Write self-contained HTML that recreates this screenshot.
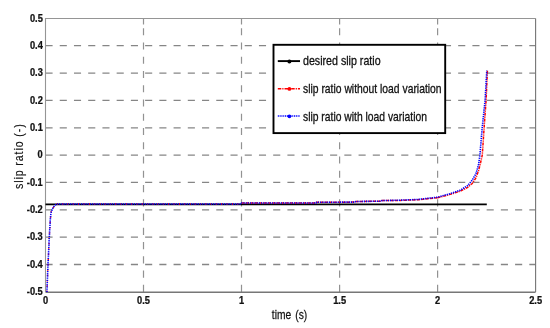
<!DOCTYPE html>
<html><head><meta charset="utf-8"><title>slip ratio</title>
<style>
html,body{margin:0;padding:0;background:#fff;}
svg{display:block;font-family:"Liberation Sans",sans-serif;}
.tick text{font-size:10px;font-weight:bold;fill:#111;stroke:#111;stroke-width:0.25;}
.grid line{stroke-dasharray:7.1 7.13;}
.grid .h{stroke:#868686;stroke-width:1.3;}
.grid .v{stroke:#929292;stroke-width:1.2;}
.lbl{font-size:12.6px;fill:#111;stroke:#111;stroke-width:0.3;}
.ax{font-size:12.3px;fill:#111;stroke:#111;stroke-width:0.25;}
</style></head><body>
<svg width="550" height="328" viewBox="0 0 550 328">
<rect x="0" y="0" width="550" height="328" fill="#fff"/>
<g class="grid">
<line class="v" x1="143.5" y1="291.95" x2="143.5" y2="26.5" style="stroke-dasharray:7.1 7.16"/>
<line class="v" x1="143.5" y1="18.5" x2="143.5" y2="24.5" style="stroke-dasharray:none"/>
<line class="v" x1="241.5" y1="291.95" x2="241.5" y2="26.5" style="stroke-dasharray:7.1 7.16"/>
<line class="v" x1="241.5" y1="18.5" x2="241.5" y2="24.5" style="stroke-dasharray:none"/>
<line class="v" x1="339.6" y1="291.95" x2="339.6" y2="26.5" style="stroke-dasharray:7.1 7.16"/>
<line class="v" x1="339.6" y1="18.5" x2="339.6" y2="24.5" style="stroke-dasharray:none"/>
<line class="v" x1="437.6" y1="291.95" x2="437.6" y2="26.5" style="stroke-dasharray:7.1 7.16"/>
<line class="v" x1="437.6" y1="18.5" x2="437.6" y2="24.5" style="stroke-dasharray:none"/>
<line class="h" x1="45.5" y1="45.7" x2="535.6" y2="45.7"/>
<line class="h" x1="45.5" y1="73.1" x2="535.6" y2="73.1"/>
<line class="h" x1="45.5" y1="100.4" x2="535.6" y2="100.4"/>
<line class="h" x1="45.5" y1="127.8" x2="535.6" y2="127.8"/>
<line class="h" x1="45.5" y1="155.1" x2="535.6" y2="155.1"/>
<line class="h" x1="45.5" y1="182.4" x2="535.6" y2="182.4"/>
<line class="h" x1="45.5" y1="209.8" x2="535.6" y2="209.8"/>
<line class="h" x1="45.5" y1="237.1" x2="535.6" y2="237.1"/>
<line class="h" x1="45.5" y1="264.5" x2="535.6" y2="264.5"/>
</g>
<path d="M45.5 291.9V18.5H535.6" fill="none" stroke="#959595" stroke-width="1.1"/>
<line x1="535.6" y1="18.5" x2="535.6" y2="291.9" stroke="#747474" stroke-width="1.1"/>
<line x1="45.5" y1="292.2" x2="535.6" y2="292.2" stroke="#777" stroke-width="1.6"/>
<line x1="45.5" y1="204.35" x2="486.8" y2="204.35" stroke="#000" stroke-width="1.9"/>
<polyline points="46.9,292.0 48.0,264.5 48.7,250.0 49.3,237.0 50.3,220.0 50.8,214.3 51.3,211.7 52.2,209.3 53.7,206.8 55.2,205.0 56.8,204.0 241.0,204.0 241.6,203.0" fill="none" stroke="#ff0000" stroke-width="1.4" stroke-dasharray="1.4 3.9"/>
<polyline points="241.6,203.0 316.0,203.0 316.5,202.3 355.0,202.1 356.0,201.5 381.0,201.2 382.0,200.6 400.0,200.4 418.3,199.7 437.5,197.7" fill="none" stroke="#ff0000" stroke-width="1.5" stroke-dasharray="3.2 1.2"/>
<polyline points="437.5,197.7 449.4,194.6 460.3,191.2 467.6,187.4 472.2,183.5 475.9,178.0 478.6,170.5 480.5,163.0 482.3,155.0 484.1,127.8 486.1,100.0 487.4,70.6" fill="none" stroke="#ff0000" stroke-width="1.5" stroke-dasharray="3 0.9 1.2 0.9"/>
<polyline points="46.9,292.0 48.0,264.5 48.7,250.0 49.3,237.0 50.3,220.0 50.8,214.3 51.3,211.7 52.2,209.3 53.7,206.8 55.2,205.0 56.8,204.0 241.0,204.0 241.6,203.0 316.0,203.0 316.5,202.3 355.0,202.1 356.0,201.5 381.0,201.2 382.0,200.6 400.0,200.2 418.3,199.4 437.5,197.2 449.4,193.9 460.3,190.2 467.6,185.6 472.2,180.2 475.9,173.8 478.6,164.6 479.9,155.0 482.2,127.8 485.1,100.0 486.8,70.6" fill="none" stroke="#0000ff" stroke-width="1.6" stroke-dasharray="1.3 0.9"/>
<g class="tick">
<text transform="translate(42.8,21.6) scale(0.93,1)" text-anchor="end">0.5</text>
<text transform="translate(42.8,48.9) scale(0.93,1)" text-anchor="end">0.4</text>
<text transform="translate(42.8,76.3) scale(0.93,1)" text-anchor="end">0.3</text>
<text transform="translate(42.8,103.6) scale(0.93,1)" text-anchor="end">0.2</text>
<text transform="translate(42.8,131.0) scale(0.93,1)" text-anchor="end">0.1</text>
<text transform="translate(42.8,158.3) scale(0.93,1)" text-anchor="end">0</text>
<text transform="translate(42.8,185.6) scale(0.93,1)" text-anchor="end">-0.1</text>
<text transform="translate(42.8,213.0) scale(0.93,1)" text-anchor="end">-0.2</text>
<text transform="translate(42.8,240.3) scale(0.93,1)" text-anchor="end">-0.3</text>
<text transform="translate(42.8,267.7) scale(0.93,1)" text-anchor="end">-0.4</text>
<text transform="translate(42.8,295.0) scale(0.93,1)" text-anchor="end">-0.5</text>
<text transform="translate(45.5,303.8) scale(0.93,1)" text-anchor="middle">0</text>
<text transform="translate(143.5,303.8) scale(0.93,1)" text-anchor="middle">0.5</text>
<text transform="translate(241.5,303.8) scale(0.93,1)" text-anchor="middle">1</text>
<text transform="translate(339.6,303.8) scale(0.93,1)" text-anchor="middle">1.5</text>
<text transform="translate(437.6,303.8) scale(0.93,1)" text-anchor="middle">2</text>
<text transform="translate(535.6,303.8) scale(0.93,1)" text-anchor="middle">2.5</text>
</g>
<text class="ax" style="font-size:12.9px;word-spacing:1.6px" transform="translate(271.8,318.8) scale(0.795,1)">time (s)</text>
<text class="ax" style="stroke-width:0.15;letter-spacing:1.05px" transform="translate(22.7,156.2) rotate(-90) scale(0.86,1)" text-anchor="middle">slip ratio (-)</text>
<rect x="273.5" y="44.8" width="171.7" height="88.3" fill="#fff" stroke="#000" stroke-width="1.9"/>
<line x1="277.8" y1="61.1" x2="300" y2="61.1" stroke="#000" stroke-width="1.9"/>
<circle cx="289.4" cy="61.5" r="2" fill="#000"/>
<line x1="277.8" y1="88.7" x2="300" y2="88.7" stroke="#ff0000" stroke-width="1.5" stroke-dasharray="3.5 1 1.2 1"/>
<circle cx="289.4" cy="88.9" r="1.9" fill="#ff0000"/>
<line x1="277.8" y1="116.1" x2="300" y2="116.1" stroke="#0000ff" stroke-width="1.5" stroke-dasharray="1.1 0.7"/>
<circle cx="289.4" cy="116.3" r="1.9" fill="#0000ff"/>
<text class="lbl" x="303" y="65.3" textLength="77.6" lengthAdjust="spacingAndGlyphs">desired slip ratio</text>
<text class="lbl" x="303" y="93.0" textLength="138.6" lengthAdjust="spacingAndGlyphs">slip ratio without load variation</text>
<text class="lbl" x="303" y="120.8" textLength="124" lengthAdjust="spacingAndGlyphs">slip ratio with load variation</text>
</svg>
</body></html>
